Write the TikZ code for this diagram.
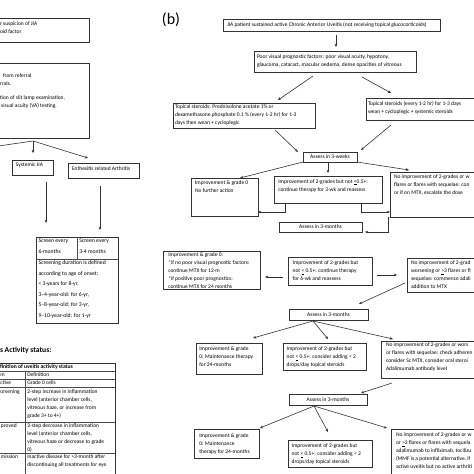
\documentclass[tikz,border=0pt]{standalone}
\usepackage{fontspec}
\setmainfont{Carlito}
\usetikzlibrary{arrows.meta,calc}
\newcommand\mybox[8]{%
 \pgfmathsetmacro\bxw{#4-#2}\pgfmathsetmacro\bxh{#5-#3}%
 \node[boxsty, anchor=north west, minimum width=\bxw pt, minimum height=\bxh pt] (#1) at (#2,#3) {};%
 \node[txt] (#1-t) at (#6,#7) {#8};}
\begin{document}
\begin{tikzpicture}[x=1pt,y=-1pt,
  boxsty/.style={draw=black!80, line width=0.7pt, inner sep=0pt, outer sep=0pt},
  txt/.style={inner sep=0pt, outer sep=0pt, anchor=north west, align=left, font=\fontsize{5.5}{8}\selectfont},
  ctxt/.style={txt, anchor=center},
  arr/.style={draw=black!80, line width=0.6pt, -{Stealth[length=3.2pt,width=2.8pt]}},
  ln/.style={draw=black!80, line width=0.6pt},
  rule/.style={draw=black!70, line width=0.5pt}]
\useasboundingbox (0,0) rectangle (474,474);
\fill[white] (0,0) rectangle (474,474);

% ---------------- panel (a) ----------------
\mybox{a1}{-5}{18}{89}{42}{0}{21.5}{r suspicion of JIA\\oid factor}
\mybox{a2}{-5}{63}{89}{138}{0}{73.5}{\hspace*{3pt}from referral\\rrals.\\[6pt]tion of slit lamp examination,\\\hspace*{1pt}visual acuity (VA) testing.}
\coordinate (fa) at ($(a2.south)+(-9,3)$);
\coordinate (fl) at (-5,146.5);
\draw[ln] (fl) -- (fa);
\mybox{sys}{12}{160}{53}{175}{16}{162.5}{Systemic JIA}
\mybox{ent}{68}{163}{139}{178}{72}{166.5}{Enthesitis related Arthritis}
\draw[arr] (fa) -- ($(sys.north)+(0.5,-7)$);
\draw[arr] (fa) -- ($(ent.north)+(-15.5,-5)$);

\node[boxsty, anchor=north west, minimum width=82pt, minimum height=86pt] (tab1) at (36,237) {};
\draw[rule] (36,259) -- (118,259);
\draw[rule] (77,237) -- (77,259);
\node[txt, font=\fontsize{5.7}{11}\selectfont] (tab1a) at (38.5,238.5) {Screen every\\6-months};
\node[txt, font=\fontsize{5.7}{11}\selectfont] (tab1b) at (79.3,238.5) {Screen every\\3-4 months};
\node[txt, font=\fontsize{5.7}{10.5}\selectfont] (tab1c) at (38.5,260.8) {Screening duration is defined\\according to age of onset:\\< 3-years for 8-yr,\\3–4-year-old: for 6-yr,\\5–8-year-old: for 3-yr,\\9–10-year-old: for 1-yr};
\draw[arr] ($(sys.south)+(13.5,7)$) -- ($(tab1.north west)+(10,-14)$);
\draw[arr] ($(ent.south)+(-3.5,8)$) -- ($(tab1.north west)+(64,-7)$);

\node[txt, anchor=west, font=\bfseries\fontsize{7.6}{9}\selectfont] (acttitle) at (0,350) {s Activity status:};

\node[boxsty, anchor=north west, minimum width=120pt, minimum height=120pt] (tab2) at (-5,363) {};
\foreach \yy in {371,379,387,422,453} \draw[rule] (-5,\yy) -- (115,\yy);
\draw[rule] (25,371) -- (25,480);
\node[txt, anchor=west, font=\bfseries\fontsize{5.6}{8}\selectfont] (h2) at (0,367) {finition of uveitis activity status};
\begin{scope}[every node/.append style={font=\fontsize{5.4}{8.3}\selectfont}]
\node[txt, anchor=west] (r2a) at (0.5,375) {m};
\node[txt, anchor=west] (r2b) at (27.3,375) {Definition};
\node[txt, anchor=west] (r3a) at (0.5,383) {ctive};
\node[txt, anchor=west] (r3b) at (27.3,383) {Grade 0 cells};
\node[txt] (r4a) at (0.5,389.6) {orsening};
\node[txt] (r4b) at (27.3,389.6) {2-step increase in inflammation\\level (anterior chamber cells,\\vitreous haze, or increase from\\grade 3+ to 4+)};
\node[txt] (r5a) at (1,423.6) {proved};
\node[txt] (r5b) at (27.3,423.6) {2-step decrease in inflammation\\level (anterior chamber cells,\\vitreous haze or decrease to grade\\0)};
\node[txt] (r6a) at (1,454.6) {mission};
\node[txt] (r6b) at (27.3,454.6) {Inactive disease for >3-month after\\discontinuing all treatments for eye};
\end{scope}

% ---------------- panel (b) ----------------
\node[anchor=center, inner sep=0pt, font=\fontsize{16}{18}\selectfont] (lblb) at (171,20) {(b)};

\mybox{b1}{223}{19}{440}{31}{227}{22.5}{JIA patient sustained active Chronic Anterior Uveitis (not receiving topical glucocorticoids)}
\mybox{b2}{254}{51}{416}{72}{257}{54.8}{Poor visual prognostic factors: poor visual acuity, hypotony,\\glaucoma, cataract, macular oedema, dense opacities of vitreous}
\mybox{b3l}{173}{103}{315}{128}{175}{104.8}{Topical steroids: Prednisolone acetate 1\% or\\dexamethasone phosphate 0.1 \% (every 1-2 hr) for 1-3\\days then wean + cycloplegic}
\mybox{b3r}{366}{98}{480}{120}{368}{101.5}{Topical steroids (every 1-2 hr) for 1-3 days\\wean + cycloplegic + systemic steroids}
\draw[arr] ($(b1.south)+(4.5,4)$) -- ($(b2.north)+(1,-4)$);
\draw[arr] ($(b2.south)+(-22,4)$) -- ($(b3l.north)+(34,-3)$);
\draw[arr] ($(b2.south)+(27,5)$) -- ($(b3r.north)+(-32,-5)$);

\node[boxsty, anchor=north west, minimum width=54pt, minimum height=10pt] (a3w) at (303,152) {};
\node[ctxt] (a3w-t) at (a3w) {Assess in 3-weeks};
\draw[arr] ($(b3l.south)+(31,2)$) -- ($(a3w.north west)+(-5,0)$);
\draw[arr] ($(b3r.south)+(-32,5)$) -- ($(a3w.north east)+(4,-2)$);

\mybox{i1}{191}{178}{258}{216}{195}{180.5}{Improvement \& grade 0\\No further action}
\mybox{i2}{274}{176}{382}{203}{278.3}{179.2}{Improvement of 2-grades but not \underline{<}0.5+:\\continue therapy for 3-wk and reassess}
\mybox{i3}{390}{172}{480}{217}{394}{174.8}{No improvement of 2-grades or w\\flares or flares with sequelae: con\\or if on MTX, escalate the dose}
\draw[arr] (a3w.south west) -- ($(i1.north)+(15.5,0)$);
\draw[arr] ($(a3w.south)+(-2,0)$) -- ($(i2.north)+(0,-3)$);
\draw[arr] (a3w.south east) -- ($(i3.north west)+(19,-2)$);
\draw[arr] ($(i2.south west)+(11,0)$) |- ($(i1.east)+(0,15)$);
\draw[arr] ($(i2.south east)+(-21,0)$) |- ($(i3.south west)+(0,-5)$);

\node[boxsty, anchor=north west, minimum width=83pt, minimum height=10pt] (a3m1) at (279,222) {};
\node[ctxt] (a3m1-t) at (a3m1) {Assess in 3-months};
\draw[arr] ($(i3.south west)+(-2,0)$) |- ($(a3m1.south east)+(3,0)$);

\mybox{j1}{163}{251}{260}{289}{168.3}{252.5}{Improvement \& grade 0:\\*if no poor visual prognostic factors:\\continue MTX for 12-m\\*if positive poor prognostics:\\continue MTX for 24 months}
\mybox{j2}{288}{257}{372}{285}{292.7}{260.8}{Improvement of 2-grades but\\not \underline{<} 0.5+: continue therapy\\for 6-wk and reassess}
\mybox{j3}{407}{258}{480}{292}{411}{260.5}{No improvement of 2-grad\\worsening or \underline{>}3 flares or fl\\sequelae: commence adali\\addition to MTX}
\draw[arr] ($(j2.west)+(-5,6)$) -- ($(j1.east)+(5,7)$);
\draw[arr] ($(j2.east)+(5,4)$) -- ($(j3.west)+(-10,0)$);

\node[boxsty, anchor=north west, minimum width=79pt, minimum height=11pt] (a3m2) at (289,309) {};
\node[ctxt] (a3m2-t) at (a3m2) {Assess in 3-months};
\draw[arr] ($(j3.south west)+(-2,-9)$) -- ($(a3m2.north east)+(-9,-5)$);

\mybox{k1}{196}{343}{262}{374}{199.3}{346.5}{Improvement \& grade\\0: Maintenance therapy\\for 24-months}
\mybox{k2}{283}{343}{366}{370}{286.7}{346.5}{Improvement of 2-grades but\\not \underline{<} 0.5+: consider adding < 2\\drops/day topical steroids}
\mybox{k3}{381}{341}{480}{378}{386}{342.7}{No improvement of 2-grades or wors\\or flares with sequelae: check adheren\\consider Sc MTX, consider oral steroi\\Adalimumab antibody level}
\coordinate (f2) at ($(a3m2.south)+(-15.5,1)$);
\draw[arr] (f2) -- ($(k1.north east)+(-9,-5)$);
\draw[arr] (f2) -- ($(k2.north)+(3.5,-4)$);
\draw[arr] (f2) -- ($(k3.north west)+(12,-2)$);

\node[boxsty, anchor=north west, minimum width=78pt, minimum height=11pt] (a3m3) at (289,394) {};
\node[ctxt] (a3m3-t) at (a3m3) {Assess in 3-months};
\draw[arr] ($(k3.south west)+(11,5)$) -- ($(a3m3.north east)+(-6,-1)$);

\mybox{l1}{194}{429}{259}{458}{199.3}{433.5}{Improvement \& grade\\0: Maintenance\\therapy for 24-months}
\mybox{l2}{288}{440}{372}{467}{291.7}{443.5}{Improvement of 2-grades but\\not \underline{<} 0.5+: consider adding < 2\\drops/day topical steroids}
\mybox{l3}{391}{429}{480}{480}{396}{432.5}{No improvement of 2-grades or w\\or \underline{>}3 flares or flares with sequela\\adalimumab to infliximab, tocilizu\\(MMF is a potential alternative, if\\active uveitis but no active arthriti}
\coordinate (f3) at ($(a3m3.south)+(-14,1)$);
\draw[arr] (f3) -- ($(l1.north east)+(1,-1)$);
\draw[arr] (f3) -- ($(l2.north)+(-2,-8)$);
\draw[arr] (f3) -- ($(l3.north west)+(-4,-1)$);
\end{tikzpicture}
\end{document}
